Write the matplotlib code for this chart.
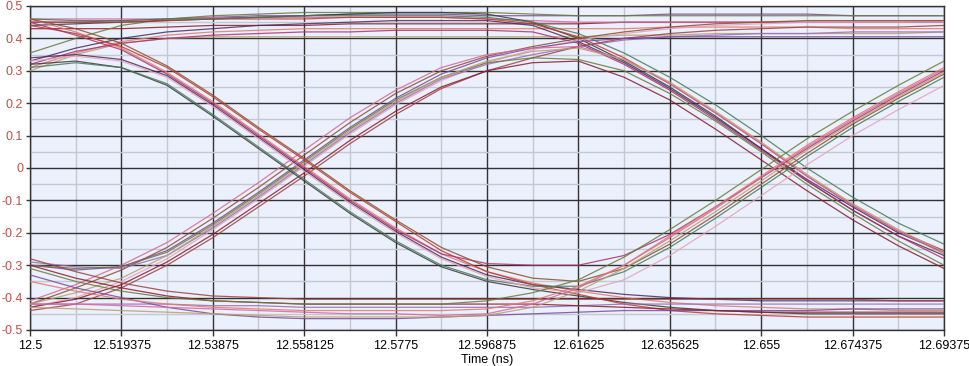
import matplotlib
matplotlib.use('Agg')
import matplotlib.pyplot as plt
import numpy as np

plt.rcParams['font.family'] = ['Liberation Sans', 'DejaVu Sans']

# sample times: 12.5 .. 12.69375 in half-division steps (21 points)
T_START = 12.5
T_STEP = 0.0096875
N_PTS = 21

X_TICKS = [12.5, 12.519375, 12.53875, 12.558125, 12.5775, 12.596875,
           12.61625, 12.635625, 12.655, 12.674375, 12.69375]
X_LABELS = ['12.5', '12.519375', '12.53875', '12.558125', '12.5775', '12.596875',
            '12.61625', '12.635625', '12.655', '12.674375', '12.69375']
Y_TICKS = [0.5, 0.4, 0.3, 0.2, 0.1, 0.0, -0.1, -0.2, -0.3, -0.4, -0.5]
Y_LABELS = ['0.5', '0.4', '0.3', '0.2', '0.1', '0', '-0.1', '-0.2', '-0.3', '-0.4', '-0.5']

# high -> high
high_high = [
    [0.45, 0.45, 0.455, 0.46, 0.465, 0.47, 0.47, 0.475, 0.475, 0.475, 0.47, 0.47, 0.47, 0.47, 0.475, 0.475, 0.475, 0.475, 0.47, 0.47, 0.47],
    [0.43, 0.43, 0.43, 0.435, 0.44, 0.44, 0.44, 0.445, 0.445, 0.445, 0.445, 0.445, 0.445, 0.45, 0.45, 0.45, 0.45, 0.45, 0.45, 0.45, 0.45],
    [0.46, 0.46, 0.46, 0.46, 0.465, 0.465, 0.465, 0.465, 0.465, 0.465, 0.46, 0.455, 0.45, 0.45, 0.45, 0.45, 0.45, 0.45, 0.45, 0.45, 0.455],
    [0.355, 0.40, 0.44, 0.46, 0.47, 0.475, 0.48, 0.48, 0.48, 0.48, 0.48, 0.475, 0.47, 0.47, 0.47, 0.47, 0.47, 0.47, 0.47, 0.47, 0.47],
    [0.30, 0.35, 0.385, 0.40, 0.405, 0.405, 0.405, 0.405, 0.405, 0.405, 0.405, 0.405, 0.405, 0.41, 0.41, 0.415, 0.415, 0.415, 0.415, 0.415, 0.42],
    [0.31, 0.355, 0.39, 0.41, 0.42, 0.425, 0.43, 0.43, 0.43, 0.43, 0.43, 0.43, 0.43, 0.43, 0.435, 0.435, 0.435, 0.435, 0.43, 0.43, 0.43],
]
# high -> falling in second bit
high_fall = [
    [0.44, 0.445, 0.45, 0.455, 0.46, 0.465, 0.47, 0.475, 0.48, 0.48, 0.475, 0.45, 0.40, 0.33, 0.25, 0.16, 0.06, -0.04, -0.13, -0.21, -0.27],
    [0.33, 0.37, 0.40, 0.42, 0.43, 0.44, 0.445, 0.45, 0.455, 0.455, 0.455, 0.44, 0.39, 0.325, 0.245, 0.155, 0.06, -0.035, -0.12, -0.20, -0.26],
    [0.45, 0.45, 0.45, 0.455, 0.46, 0.46, 0.46, 0.465, 0.465, 0.465, 0.46, 0.445, 0.405, 0.34, 0.26, 0.17, 0.075, -0.025, -0.115, -0.195, -0.255],
    [0.32, 0.36, 0.385, 0.40, 0.41, 0.415, 0.42, 0.42, 0.425, 0.425, 0.425, 0.42, 0.385, 0.32, 0.24, 0.15, 0.055, -0.04, -0.13, -0.21, -0.28],
    [0.46, 0.455, 0.455, 0.46, 0.46, 0.465, 0.47, 0.47, 0.47, 0.47, 0.465, 0.45, 0.415, 0.355, 0.28, 0.195, 0.10, 0.0, -0.09, -0.17, -0.235],
]
# rising -> high
rise_high = [
    [-0.42, -0.37, -0.315, -0.245, -0.155, -0.06, 0.04, 0.14, 0.23, 0.30, 0.345, 0.375, 0.40, 0.42, 0.435, 0.445, 0.45, 0.455, 0.455, 0.455, 0.455],
    [-0.43, -0.40, -0.35, -0.28, -0.19, -0.095, 0.005, 0.105, 0.195, 0.27, 0.325, 0.365, 0.395, 0.415, 0.43, 0.44, 0.445, 0.45, 0.45, 0.45, 0.45],
    [-0.29, -0.305, -0.31, -0.27, -0.185, -0.09, 0.01, 0.11, 0.20, 0.275, 0.32, 0.35, 0.375, 0.395, 0.405, 0.41, 0.415, 0.415, 0.42, 0.42, 0.42],
    [-0.44, -0.42, -0.37, -0.30, -0.215, -0.12, -0.025, 0.075, 0.165, 0.245, 0.30, 0.34, 0.375, 0.40, 0.415, 0.425, 0.43, 0.435, 0.435, 0.435, 0.44],
    [-0.30, -0.315, -0.305, -0.255, -0.17, -0.075, 0.025, 0.125, 0.215, 0.29, 0.34, 0.37, 0.39, 0.40, 0.405, 0.405, 0.405, 0.405, 0.405, 0.405, 0.405],
]
# rising -> falling
rise_fall = [
    [-0.43, -0.405, -0.36, -0.29, -0.205, -0.11, -0.015, 0.085, 0.175, 0.25, 0.30, 0.325, 0.33, 0.28, 0.21, 0.12, 0.025, -0.07, -0.16, -0.24, -0.31],
    [-0.41, -0.36, -0.30, -0.23, -0.14, -0.045, 0.055, 0.155, 0.24, 0.31, 0.35, 0.37, 0.375, 0.335, 0.26, 0.17, 0.075, -0.025, -0.115, -0.195, -0.265],
    [-0.30, -0.31, -0.305, -0.26, -0.175, -0.08, 0.02, 0.12, 0.21, 0.28, 0.325, 0.34, 0.335, 0.30, 0.23, 0.145, 0.05, -0.05, -0.14, -0.225, -0.30],
    [-0.42, -0.385, -0.34, -0.27, -0.18, -0.085, 0.015, 0.115, 0.205, 0.28, 0.33, 0.36, 0.37, 0.335, 0.265, 0.175, 0.08, -0.02, -0.11, -0.19, -0.26],
]
# falling -> low
fall_low = [
    [0.46, 0.42, 0.37, 0.295, 0.205, 0.105, 0.005, -0.095, -0.185, -0.265, -0.32, -0.355, -0.38, -0.40, -0.415, -0.425, -0.43, -0.435, -0.435, -0.44, -0.44],
    [0.32, 0.33, 0.31, 0.255, 0.16, 0.06, -0.04, -0.14, -0.23, -0.305, -0.35, -0.375, -0.395, -0.415, -0.43, -0.44, -0.445, -0.45, -0.45, -0.45, -0.45],
    [0.34, 0.35, 0.335, 0.285, 0.195, 0.095, -0.005, -0.105, -0.195, -0.275, -0.33, -0.36, -0.375, -0.39, -0.40, -0.405, -0.41, -0.41, -0.41, -0.41, -0.41],
    [0.44, 0.415, 0.375, 0.31, 0.22, 0.12, 0.025, -0.075, -0.165, -0.255, -0.32, -0.36, -0.39, -0.42, -0.44, -0.45, -0.455, -0.46, -0.46, -0.46, -0.46],
]
# falling -> rising
fall_rise = [
    [0.45, 0.41, 0.365, 0.29, 0.20, 0.10, 0.0, -0.10, -0.19, -0.265, -0.295, -0.30, -0.30, -0.27, -0.205, -0.12, -0.03, 0.06, 0.145, 0.225, 0.30],
    [0.31, 0.325, 0.31, 0.26, 0.165, 0.065, -0.035, -0.135, -0.225, -0.30, -0.345, -0.365, -0.365, -0.32, -0.245, -0.155, -0.06, 0.035, 0.125, 0.205, 0.28],
    [0.46, 0.43, 0.385, 0.315, 0.225, 0.125, 0.03, -0.07, -0.16, -0.245, -0.305, -0.34, -0.35, -0.31, -0.235, -0.145, -0.05, 0.045, 0.135, 0.215, 0.29],
    [0.33, 0.345, 0.33, 0.28, 0.19, 0.09, -0.01, -0.11, -0.20, -0.28, -0.335, -0.37, -0.385, -0.345, -0.27, -0.18, -0.085, 0.01, 0.10, 0.18, 0.255],
]
# low -> low
low_low = [
    [-0.42, -0.42, -0.42, -0.42, -0.425, -0.425, -0.43, -0.43, -0.43, -0.43, -0.43, -0.43, -0.425, -0.42, -0.42, -0.42, -0.42, -0.42, -0.42, -0.42, -0.42],
    [-0.28, -0.32, -0.355, -0.38, -0.395, -0.40, -0.405, -0.405, -0.405, -0.405, -0.405, -0.405, -0.405, -0.405, -0.405, -0.405, -0.405, -0.405, -0.405, -0.41, -0.41],
    [-0.33, -0.37, -0.40, -0.43, -0.45, -0.46, -0.465, -0.465, -0.465, -0.46, -0.455, -0.45, -0.445, -0.44, -0.44, -0.44, -0.44, -0.44, -0.435, -0.435, -0.435],
    [-0.30, -0.34, -0.37, -0.395, -0.41, -0.415, -0.42, -0.42, -0.42, -0.42, -0.42, -0.42, -0.425, -0.43, -0.435, -0.44, -0.445, -0.445, -0.445, -0.445, -0.445],
]
# low -> rising
low_rise = [
    [-0.42, -0.42, -0.425, -0.43, -0.435, -0.44, -0.445, -0.45, -0.45, -0.455, -0.45, -0.42, -0.37, -0.30, -0.215, -0.125, -0.03, 0.065, 0.15, 0.23, 0.305],
    [-0.31, -0.35, -0.38, -0.40, -0.41, -0.415, -0.42, -0.42, -0.42, -0.42, -0.41, -0.385, -0.345, -0.275, -0.19, -0.10, -0.005, 0.09, 0.175, 0.255, 0.33],
    [-0.43, -0.435, -0.44, -0.445, -0.45, -0.455, -0.46, -0.46, -0.46, -0.46, -0.455, -0.43, -0.38, -0.31, -0.225, -0.135, -0.04, 0.055, 0.14, 0.22, 0.295],
    [-0.35, -0.38, -0.405, -0.42, -0.43, -0.435, -0.44, -0.44, -0.44, -0.44, -0.435, -0.41, -0.365, -0.30, -0.21, -0.12, -0.025, 0.07, 0.155, 0.235, 0.31],
]

TRACE_COLORS = ['#7a4a9a', '#8b1c2c', '#d9669a', '#6b7b3a', '#b8a070', '#e07a6a',
                '#3a3a3a', '#4b2d5e', '#c0392b', '#b03070', '#4a7a5a', '#8a5030',
                '#e8a0b8', '#9a6ab8', '#a04040']

BG = '#eaf0fc'
MAJOR = '#333333'
MINOR = '#c4c8d0'
RED_TXT = '#c0504d'

t = T_START + T_STEP * np.arange(N_PTS)

fig = plt.figure(figsize=(9.7, 3.66), dpi=100)
ax = fig.add_axes([30 / 970, 36 / 366, 914 / 970, 324 / 366])
ax.set_facecolor(BG)

groups = [high_high, high_fall, rise_high, rise_fall, fall_low, fall_rise, low_low, low_rise]
k = 0
for grp in groups:
    for ys in grp:
        ax.plot(t, ys, '-', color=TRACE_COLORS[k % len(TRACE_COLORS)],
                linewidth=0.9, alpha=0.85, zorder=3)
        k += 1

ax.set_xlim(X_TICKS[0], X_TICKS[-1])
ax.set_ylim(-0.5, 0.5)
ax.set_xticks(X_TICKS)
ax.set_xticklabels(X_LABELS)
ax.set_yticks(Y_TICKS)
ax.set_yticklabels(Y_LABELS)
ax.set_xticks([a + T_STEP for a in X_TICKS[:-1]], minor=True)
ax.set_yticks([v + 0.05 for v in Y_TICKS[1:]], minor=True)

ax.grid(which='major', color=MAJOR, linewidth=1.0, zorder=1)
ax.grid(which='minor', color=MINOR, linewidth=1.0, zorder=0)
ax.set_axisbelow(True)

ax.tick_params(axis='x', which='major', length=4, width=1, color=MAJOR,
               labelsize=9, pad=3, labelcolor='black')
ax.tick_params(axis='y', which='major', length=3, width=1, color=MAJOR,
               labelsize=9, pad=2, labelcolor=RED_TXT)
ax.tick_params(which='minor', length=0)

for side in ['left', 'right', 'top', 'bottom']:
    ax.spines[side].set_color(MAJOR)
    ax.spines[side].set_linewidth(1.0)

ax.set_xlabel('Time (ns)', fontsize=9, labelpad=2)

fig.savefig('out.png', dpi=100, facecolor='white')
